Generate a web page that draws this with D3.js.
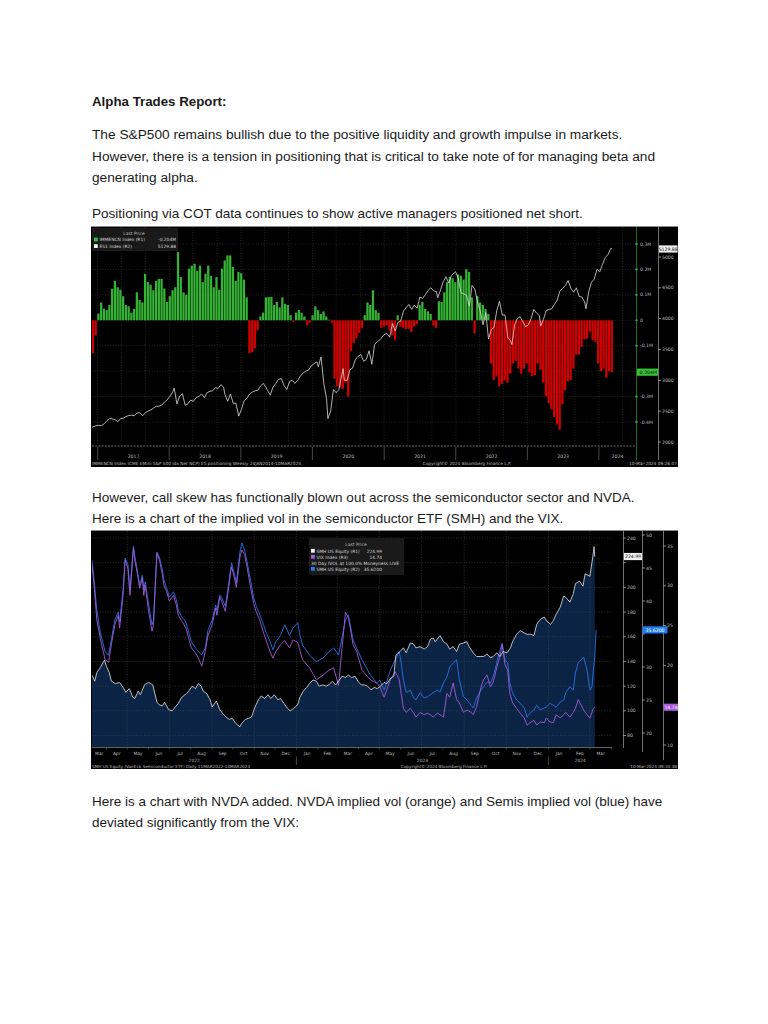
<!DOCTYPE html>
<html><head><meta charset="utf-8">
<script src="https://cdn.jsdelivr.net/npm/d3@7"></script>
<style>html,body{margin:0;padding:0;background:#fff;} svg{display:block;}</style>
</head><body>
<svg id="page" width="768" height="1024"></svg>
<script>
// ================= DATA =================
// Chart 1: CME E-mini S&P 500 net non-commercial positioning (thousand contracts), biweekly
const cotStart = "2016-11-25";
const cotStepDays = 14;
const cotNetK = [-135,-130,-60,26,70,46,40,60,124,155,130,120,95,60,55,30,45,110,80,70,
183,150,140,118,155,163,163,125,72,95,118,130,268,170,110,100,203,215,222,195,
215,150,183,215,175,130,170,120,203,235,255,255,210,155,190,185,160,90,-130,-125,
-110,-40,15,30,90,92,92,60,72,50,90,65,60,20,-6,30,40,30,15,-20,
-10,20,55,40,25,35,15,2,-10,-230,-260,-265,-270,-245,-300,-120,-90,-70,-50,-30,
20,70,60,118,40,30,-30,-25,-20,-40,-59,-78,20,-25,-30,-35,-33,-46,-25,-15,
60,72,45,35,25,-20,-30,75,72,110,150,170,165,150,180,175,160,200,190,90,
-52,95,70,60,45,25,-170,-235,-220,-260,-250,-235,-245,-210,-170,-160,-190,-210,-190,-170,
-205,-220,-215,-170,-195,-245,-300,-325,-350,-380,-410,-431,-330,-275,-240,-235,-190,-135,-135,-105,
-75,-72,-45,-78,-85,-170,-200,-190,-225,-200,-204];
// ES1 index (S&P 500 e-mini front month)
const esDates = ["2016-11-25","2016-12-09","2016-12-23","2017-01-06","2017-01-20","2017-02-03","2017-02-17","2017-03-03","2017-03-17","2017-03-31","2017-04-14","2017-04-28","2017-05-12","2017-05-26","2017-06-09","2017-06-23","2017-07-07","2017-07-21","2017-08-04","2017-08-18","2017-09-01","2017-09-15","2017-09-29","2017-10-13","2017-10-27","2017-11-10","2017-11-24","2017-12-08","2017-12-22","2018-01-05","2018-01-19","2018-01-26","2018-02-09","2018-02-23","2018-03-09","2018-03-23","2018-04-06","2018-04-20","2018-05-04","2018-05-18","2018-06-01","2018-06-15","2018-06-29","2018-07-13","2018-07-27","2018-08-10","2018-08-24","2018-09-07","2018-09-21","2018-10-05","2018-10-12","2018-10-26","2018-11-09","2018-11-23","2018-12-07","2018-12-21","2019-01-04","2019-01-18","2019-02-01","2019-02-15","2019-03-01","2019-03-15","2019-03-29","2019-04-12","2019-04-26","2019-05-10","2019-05-31","2019-06-14","2019-06-28","2019-07-12","2019-07-26","2019-08-09","2019-08-23","2019-09-06","2019-09-20","2019-10-04","2019-10-18","2019-11-01","2019-11-15","2019-11-29","2019-12-13","2019-12-27","2020-01-10","2020-01-24","2020-01-31","2020-02-14","2020-02-28","2020-03-13","2020-03-20","2020-04-03","2020-04-17","2020-05-01","2020-05-15","2020-06-05","2020-06-12","2020-06-26","2020-07-10","2020-07-24","2020-08-07","2020-08-21","2020-09-04","2020-09-18","2020-10-02","2020-10-16","2020-10-30","2020-11-13","2020-11-27","2020-12-11","2020-12-31","2021-01-15","2021-01-29","2021-02-12","2021-02-26","2021-03-12","2021-03-26","2021-04-09","2021-04-23","2021-05-07","2021-05-21","2021-06-04","2021-06-18","2021-07-02","2021-07-16","2021-07-30","2021-08-13","2021-08-27","2021-09-10","2021-09-24","2021-10-01","2021-10-15","2021-10-29","2021-11-12","2021-11-26","2021-12-10","2021-12-31","2022-01-14","2022-01-28","2022-02-11","2022-02-25","2022-03-11","2022-03-25","2022-04-08","2022-04-22","2022-05-06","2022-05-20","2022-06-03","2022-06-17","2022-07-01","2022-07-15","2022-07-29","2022-08-12","2022-08-26","2022-09-09","2022-09-23","2022-10-07","2022-10-14","2022-10-28","2022-11-11","2022-11-25","2022-12-09","2022-12-23","2023-01-06","2023-01-20","2023-02-03","2023-02-17","2023-03-03","2023-03-10","2023-03-24","2023-04-07","2023-04-21","2023-05-05","2023-05-19","2023-06-02","2023-06-16","2023-06-30","2023-07-14","2023-07-28","2023-08-11","2023-08-25","2023-09-08","2023-09-22","2023-10-06","2023-10-20","2023-10-27","2023-11-10","2023-11-24","2023-12-08","2023-12-22","2024-01-05","2024-01-19","2024-02-02","2024-02-16","2024-03-01","2024-03-08"];
const esValues = [2210,2250,2262,2270,2265,2295,2345,2380,2375,2360,2330,2380,2388,2412,2430,2435,2425,2470,2475,2425,2475,2500,2520,2550,2580,2580,2600,2650,2685,2745,2815,2875,2620,2745,2785,2595,2620,2680,2660,2720,2740,2780,2720,2800,2820,2830,2880,2870,2930,2890,2770,2660,2780,2630,2630,2420,2530,2670,2710,2780,2810,2830,2840,2910,2950,2880,2760,2890,2950,3015,3030,2920,2850,2980,3000,2950,3000,3070,3120,3150,3170,3240,3270,3300,3220,3380,2950,2700,2380,2500,2850,2800,2850,3190,3000,3000,3170,3200,3340,3390,3420,3310,3340,3480,3260,3580,3630,3660,3740,3760,3700,3920,3800,3940,3960,4120,4180,4230,4150,4220,4170,4350,4330,4390,4460,4500,4450,4440,4340,4460,4600,4680,4580,4700,4760,4650,4420,4400,4380,4200,4540,4480,4270,4120,3900,4100,3670,3820,3860,4130,4280,4060,4060,3700,3640,3580,3900,4000,4030,3950,3870,3900,4000,4150,4090,4050,3880,3990,4130,4150,4160,4230,4300,4450,4490,4540,4620,4490,4430,4500,4360,4350,4270,4160,4440,4590,4640,4800,4760,4880,4990,5040,5140,5129.88];
const cotTicks = [-400,-300,-200,-100,0,100,200,300];
const esTicks = [2000,2500,3000,3500,4000,4500,5000];

// Chart 2: SMH price, SMH 30d implied vol, VIX
const smhDates = ["2022-03-11","2022-03-15","2022-03-18","2022-03-23","2022-03-29","2022-04-01","2022-04-05","2022-04-08","2022-04-14","2022-04-20","2022-04-25","2022-04-29","2022-05-04","2022-05-09","2022-05-12","2022-05-17","2022-05-20","2022-05-26","2022-06-01","2022-06-07","2022-06-13","2022-06-16","2022-06-21","2022-06-24","2022-06-30","2022-07-05","2022-07-11","2022-07-14","2022-07-19","2022-07-26","2022-07-29","2022-08-03","2022-08-08","2022-08-12","2022-08-16","2022-08-19","2022-08-24","2022-08-29","2022-09-01","2022-09-07","2022-09-12","2022-09-16","2022-09-21","2022-09-26","2022-09-30","2022-10-05","2022-10-11","2022-10-14","2022-10-19","2022-10-24","2022-10-28","2022-11-02","2022-11-07","2022-11-11","2022-11-16","2022-11-21","2022-11-25","2022-11-30","2022-12-05","2022-12-09","2022-12-14","2022-12-19","2022-12-23","2022-12-28","2023-01-03","2023-01-06","2023-01-11","2023-01-16","2023-01-20","2023-01-25","2023-01-30","2023-02-03","2023-02-08","2023-02-13","2023-02-17","2023-02-22","2023-02-27","2023-03-03","2023-03-08","2023-03-13","2023-03-17","2023-03-22","2023-03-27","2023-03-31","2023-04-05","2023-04-10","2023-04-14","2023-04-19","2023-04-24","2023-04-28","2023-05-03","2023-05-08","2023-05-12","2023-05-17","2023-05-22","2023-05-25","2023-05-31","2023-06-05","2023-06-09","2023-06-15","2023-06-20","2023-06-23","2023-06-29","2023-07-05","2023-07-10","2023-07-14","2023-07-18","2023-07-21","2023-07-28","2023-08-02","2023-08-07","2023-08-11","2023-08-16","2023-08-21","2023-08-25","2023-08-31","2023-09-05","2023-09-08","2023-09-14","2023-09-19","2023-09-25","2023-09-29","2023-10-04","2023-10-09","2023-10-13","2023-10-18","2023-10-23","2023-10-27","2023-11-02","2023-11-07","2023-11-10","2023-11-16","2023-11-21","2023-11-27","2023-12-01","2023-12-06","2023-12-11","2023-12-15","2023-12-20","2023-12-26","2023-12-29","2024-01-04","2024-01-08","2024-01-12","2024-01-18","2024-01-23","2024-01-26","2024-02-01","2024-02-06","2024-02-09","2024-02-15","2024-02-20","2024-02-23","2024-03-01","2024-03-05","2024-03-07","2024-03-08"];
const smhPrices = [129,124,131,135,141,136,131,124,122,123,119,115,118,111,110,116,113,121,123,121,107,105,104,107,101,100,104,106,111,114,116,120,118,122,120,116,114,109,103,108,101,98,95,93,94,90,87,90,93,94,95,103,109,112,110,113,110,113,109,110,106,102,100,102,105,111,116,119,122,125,124,120,121,120,121,124,121,124,128,127,129,127,128,124,121,121,120,117,119,118,120,123,122,126,128,145,148,151,147,155,154,151,152,150,152,158,159,156,161,156,154,150,152,148,154,155,156,152,147,144,144,144,146,143,144,147,144,148,147,151,156,162,165,163,162,162,161,170,174,176,173,170,173,178,184,193,192,188,195,203,205,201,211,209,224,233,224.99];
const volDates = ["2022-03-11","2022-03-14","2022-03-18","2022-03-23","2022-03-30","2022-04-04","2022-04-08","2022-04-13","2022-04-18","2022-04-20","2022-04-25","2022-04-28","2022-05-02","2022-05-05","2022-05-10","2022-05-12","2022-05-16","2022-05-19","2022-05-23","2022-05-25","2022-05-27","2022-06-01","2022-06-06","2022-06-08","2022-06-13","2022-06-17","2022-06-21","2022-06-23","2022-06-27","2022-07-01","2022-07-07","2022-07-11","2022-07-14","2022-07-19","2022-07-25","2022-07-29","2022-08-02","2022-08-10","2022-08-17","2022-08-22","2022-08-26","2022-09-01","2022-09-06","2022-09-08","2022-09-12","2022-09-15","2022-09-20","2022-09-23","2022-09-29","2022-10-03","2022-10-06","2022-10-11","2022-10-14","2022-10-18","2022-10-21","2022-10-26","2022-10-31","2022-11-04","2022-11-09","2022-11-14","2022-11-18","2022-11-24","2022-11-28","2022-12-02","2022-12-09","2022-12-15","2022-12-22","2022-12-27","2023-01-03","2023-01-06","2023-01-10","2023-01-20","2023-01-30","2023-02-09","2023-02-17","2023-02-24","2023-03-03","2023-03-13","2023-03-17","2023-03-20","2023-03-24","2023-03-29","2023-04-06","2023-04-18","2023-04-27","2023-05-02","2023-05-08","2023-05-17","2023-05-24","2023-05-30","2023-06-01","2023-06-05","2023-06-09","2023-06-15","2023-06-20","2023-06-23","2023-06-29","2023-07-05","2023-07-10","2023-07-14","2023-07-18","2023-07-24","2023-07-28","2023-08-02","2023-08-07","2023-08-11","2023-08-16","2023-08-21","2023-08-25","2023-08-31","2023-09-05","2023-09-11","2023-09-14","2023-09-19","2023-09-25","2023-09-29","2023-10-04","2023-10-09","2023-10-13","2023-10-18","2023-10-23","2023-10-26","2023-10-30","2023-11-03","2023-11-06","2023-11-10","2023-11-16","2023-11-21","2023-11-27","2023-12-01","2023-12-05","2023-12-11","2023-12-15","2023-12-20","2023-12-26","2023-12-29","2024-01-03","2024-01-08","2024-01-12","2024-01-18","2024-01-23","2024-01-26","2024-02-01","2024-02-06","2024-02-09","2024-02-13","2024-02-21","2024-02-26","2024-03-01","2024-03-04","2024-03-06","2024-03-08","2024-03-10"];
const vixValues = [32.6,30.1,25.7,23.4,20.7,20.4,22.6,25.1,26.3,24.7,28.8,33.2,32.2,28.8,34.7,33.2,31.4,29.7,31.0,28.8,30.1,26.8,24.3,25.1,34.1,33.1,31.4,30.1,29.3,28.1,28.8,27.6,26.3,25.6,24.7,23.4,22.2,21.3,19.9,21.8,23.8,25.1,27.2,26.3,28.6,28.0,26.8,28.6,32.4,31.1,29.8,33.5,34.5,33.9,32.6,30.1,27.8,26.7,25.7,24.2,23.2,21.7,20.9,21.7,22.6,23.1,22.2,23.2,22.9,21.9,20.7,19.7,18.2,18.8,19.4,19.7,17.5,26.7,26.0,24.7,22.6,21.8,19.4,18.2,17.8,17.3,16.0,18.2,19.2,18.2,16.9,14.6,14.1,14.6,14.0,13.5,14.1,13.8,14.0,13.8,13.5,14.0,13.8,13.5,16.5,16.0,17.8,15.7,15.3,14.1,14.4,14.1,13.8,14.8,17.2,18.2,18.8,17.3,17.9,19.7,21.3,22.6,20.1,19.4,16.5,15.3,14.6,14.0,13.4,12.5,12.8,13.1,12.5,12.9,12.8,13.4,12.9,12.8,13.8,13.4,13.8,14.1,13.5,14.1,14.6,15.7,14.4,13.8,13.4,14.1,14.6,14.74,14.74];
const smhIvValues = [46.2,43.2,38.6,35.3,32.3,31.8,34.1,37.1,38.3,36.8,41.7,46.5,45.5,41.7,48.3,46.8,44.4,42.4,43.9,41.7,42.9,39.4,36.4,37.1,47.4,46.5,44.7,43.2,42.0,40.6,41.4,40.2,38.6,37.6,36.8,35.3,33.8,32.6,31.8,32.9,35.6,37.1,39.4,38.6,40.9,40.5,39.2,41.2,45.8,44.2,42.7,47.3,48.8,47.7,46.2,43.5,40.5,39.2,38.0,36.5,35.3,33.8,32.6,33.8,34.8,36.4,34.8,35.9,36.7,34.8,33.3,31.8,30.8,31.4,32.3,32.9,31.8,37.1,37.9,36.4,34.1,32.9,31.1,28.8,27.6,28.0,26.5,29.5,31.1,32.3,31.1,28.0,26.1,26.5,25.3,25.0,26.1,25.3,25.5,25.8,26.1,26.5,26.2,27.6,28.5,30.0,30.6,31.1,28.0,25.5,25.0,24.2,23.8,25.3,26.5,27.0,27.7,27.6,28.5,30.6,32.6,33.6,31.1,30.6,27.6,26.1,25.0,24.5,23.8,22.4,23.0,23.5,24.2,23.5,23.8,23.9,24.5,24.2,23.9,24.7,25.0,26.1,27.0,26.5,29.1,30.6,31.5,29.5,26.5,27.0,29.5,31.5,35.62];
const priceTicks = [80,100,120,140,160,180,200,220,240];
const ivTicks = [20,25,30,35,40,45,50];
const vixTicks = [10,15,20,25,30,35];

// ================= DRAWING =================
const parse = d3.timeParse("%Y-%m-%d");
const svg = d3.select("#page");
const TXT = "'Liberation Sans', Arial, sans-serif";
const CF = "'DejaVu Sans', 'Liberation Sans', sans-serif";

// ---- body text ----
const bodyLines = [
  {t:"Alpha Trades Report:", y:106, bold:true, fs:13.3},
  {t:"The S&P500 remains bullish due to the positive liquidity and growth impulse in markets.", y:139, fs:13.7},
  {t:"However, there is a tension in positioning that is critical to take note of for managing beta and", y:160.5, fs:13.7},
  {t:"generating alpha.", y:182, fs:13.7},
  {t:"Positioning via COT data continues to show active managers positioned net short.", y:217.5, fs:13.55},
  {t:"However, call skew has functionally blown out across the semiconductor sector and NVDA.", y:501.5, fs:13.5},
  {t:"Here is a chart of the implied vol in the semiconductor ETF (SMH) and the VIX.", y:522.5, fs:13.5},
  {t:"Here is a chart with NVDA added. NVDA implied vol (orange) and Semis implied vol (blue) have", y:805.5, fs:13.5},
  {t:"deviated significantly from the VIX:", y:827, fs:13.5}
];
svg.selectAll("text.body").data(bodyLines).join("text")
  .attr("class","body").attr("x",92).attr("y",d=>d.y)
  .attr("font-family",TXT).attr("font-size",d=>d.fs)
  .attr("font-weight",d=>d.bold?"bold":"normal").attr("fill","#1b1b1b")
  .text(d=>d.t);

function small(g,x,y,t,opts={}){
  return g.append("text").attr("x",x).attr("y",y).attr("font-family",CF)
    .attr("font-size",opts.size||4.6).attr("fill",opts.fill||"#bdbdbd")
    .attr("text-anchor",opts.anchor||"start").text(t);
}

// ================= CHART 1 =================
{
  const g = svg.append("g");
  g.append("rect").attr("x",91).attr("y",226).attr("width",587).attr("height",241).attr("fill","#000");
  g.append("line").attr("x1",91).attr("x2",678).attr("y1",226.5).attr("y2",226.5).attr("stroke","#8a8a8a").attr("stroke-width",1);
  const L=92, R=636, T=227, B=446;
  const x = d3.scaleTime().domain([new Date(2016,11,3), new Date(2024,6,8)]).range([L,R]);
  const yC = d3.scaleLinear().domain([-400,300]).range([422,244]);
  const yE = d3.scaleLinear().domain([2000,5000]).range([442,257]);
  const lastCot = cotNetK[cotNetK.length-1], lastEs = esValues[esValues.length-1];

  // grid
  const grid = g.append("g").attr("stroke","#3c3c3c").attr("stroke-width",0.6).attr("stroke-dasharray","1,1.6");
  grid.selectAll("line.h").data(cotTicks).join("line").attr("x1",L).attr("x2",R)
    .attr("y1",d=>yC(d)).attr("y2",d=>yC(d));
  grid.selectAll("line.v").data(d3.timeMonth.every(4).range(new Date(2017,0,1), new Date(2024,6,8))).join("line")
    .attr("x1",d=>x(d)).attr("x2",d=>x(d)).attr("y1",T).attr("y2",B);

  // bars
  g.append("clipPath").attr("id","clip1").append("rect").attr("x",L).attr("y",T).attr("width",R-L).attr("height",B-T);
  const d0 = parse(cotStart);
  const cot = cotNetK.map((v,i)=>({date:d3.timeDay.offset(d0,i*cotStepDays), v}));
  const bw = x(d3.timeDay.offset(d0,cotStepDays)) - x(d0);
  g.append("g").attr("clip-path","url(#clip1)").selectAll("rect").data(cot).join("rect")
    .attr("x",d=>x(d.date)-bw/2).attr("width",bw*0.82)
    .attr("y",d=>Math.min(yC(0),yC(d.v))).attr("height",d=>Math.abs(yC(d.v)-yC(0)))
    .attr("fill",d=>d.v>=0?"#35b335":"#d40000");

  // ES line
  const es = esDates.map((d,i)=>({date:parse(d), v:esValues[i]}));
  g.append("path").datum(es).attr("clip-path","url(#clip1)")
    .attr("d",d3.line().x(d=>x(d.date)).y(d=>yE(d.v)))
    .attr("fill","none").attr("stroke","#dcdcdc").attr("stroke-width",0.8);

  // x band
  g.append("line").attr("x1",L).attr("x2",R).attr("y1",B).attr("y2",B).attr("stroke","#9a9a9a").attr("stroke-width",0.7).attr("stroke-dasharray","2,1.2");
  const dom = x.domain();
  const years = d3.timeYear.range(d3.timeYear.floor(dom[0]), dom[1]);
  years.forEach(yv=>{
    const s = yv<dom[0]?dom[0]:yv, e0=d3.timeYear.offset(yv,1), e = e0>dom[1]?dom[1]:e0;
    if (yv>=dom[0]) g.append("line").attr("x1",x(yv)).attr("x2",x(yv)).attr("y1",B+1).attr("y2",B+14).attr("stroke","#777").attr("stroke-width",0.6);
    if (x(e)-x(s) > 20) small(g,(x(s)+x(e))/2,458,d3.timeFormat("%Y")(yv),{anchor:"middle"});
  });
  // footer
  small(g,92,465,"IMMENCN Index (CME EMini S&P 500 Idx Net NCP) ES positioning  Weekly 24JAN2014-10MAR2024",{size:4.3});
  small(g,467,465,"Copyright\u00a9 2024 Bloomberg Finance L.P.",{size:4.3,anchor:"middle"});
  small(g,677,465,"10-Mar-2024 09:26:07",{size:4.3,anchor:"end"});

  // right axis 1 (positioning) – tick hidden where the last-price tag sits
  g.append("line").attr("x1",R+0.5).attr("x2",R+0.5).attr("y1",T).attr("y2",B+14).attr("stroke","#1f8a1f").attr("stroke-width",0.8);
  cotTicks.filter(t=>Math.abs(yC(t)-yC(lastCot))>6).forEach(t=>{
    g.append("rect").attr("x",R-0.5).attr("y",yC(t)-0.8).attr("width",2).attr("height",1.6).attr("fill","#3ccc3c");
    small(g,R+4,yC(t)+1.6,t===0?"0":(t/1000)+"M");
  });
  // right axis 2 (ES)
  g.append("line").attr("x1",658.5).attr("x2",658.5).attr("y1",T).attr("y2",B+14).attr("stroke","#bbb").attr("stroke-width",0.6);
  esTicks.forEach(t=>{
    g.append("line").attr("x1",658.5).attr("x2",661).attr("y1",yE(t)).attr("y2",yE(t)).attr("stroke","#ccc").attr("stroke-width",0.7);
    small(g,662,yE(t)+1.6,String(t));
  });
  // last-price tags
  g.append("rect").attr("x",R+1).attr("y",yC(lastCot)-3.6).attr("width",21).attr("height",7.2).attr("fill","#39c039");
  small(g,R+11.5,yC(lastCot)+1.6,(lastCot/1000).toFixed(3)+"M",{anchor:"middle",fill:"#062006"});
  g.append("rect").attr("x",659).attr("y",yE(lastEs)-3.6).attr("width",18.5).attr("height",7.2).attr("fill","#eeeeee");
  small(g,668.2,yE(lastEs)+1.6,lastEs.toFixed(2),{anchor:"middle",fill:"#111"});

  // legend
  g.append("rect").attr("x",92).attr("y",228).attr("width",86).attr("height",23).attr("fill","#191919");
  small(g,134,234.5,"Last Price",{anchor:"middle",size:4.4});
  g.append("rect").attr("x",94).attr("y",237.6).attr("width",3.8).attr("height",3.8).attr("fill","#35c035");
  small(g,99.5,241.2,"IMMENCN Index   (R1)",{size:4.4,fill:"#d8d8d8"});
  small(g,176,241.2,(lastCot/1000).toFixed(3)+"M",{size:4.4,anchor:"end",fill:"#d8d8d8"});
  g.append("rect").attr("x",94).attr("y",244.2).attr("width",3.8).attr("height",3.8).attr("fill","#f2f2f2");
  small(g,99.5,247.8,"ES1 Index   (R2)",{size:4.4,fill:"#d8d8d8"});
  small(g,176,247.8,lastEs.toFixed(2),{size:4.4,anchor:"end",fill:"#d8d8d8"});
}

// ================= CHART 2 =================
{
  const g = svg.append("g");
  g.append("rect").attr("x",91).attr("y",530).attr("width",587).attr("height",239).attr("fill","#000");
  g.append("line").attr("x1",91).attr("x2",678).attr("y1",530.5).attr("y2",530.5).attr("stroke","#8a8a8a").attr("stroke-width",1);
  const L=92, R=612, T=531, B=747;
  const x = d3.scaleTime().domain([new Date(2022,2,11), new Date(2024,3,2)]).range([L,R]);
  const yP = d3.scaleLinear().domain([80,240]).range([735.5,538]);
  const yI = d3.scaleLinear().domain([20,50]).range([733,535]);
  const yV = d3.scaleLinear().domain([10,35]).range([745,546]);

  const smh = smhDates.map((d,i)=>({date:parse(d), v:smhPrices[i]}));
  const vol = volDates.map((d,i)=>({date:parse(d), vix:vixValues[i], iv:smhIvValues[i]}));
  const lp = smhPrices[smhPrices.length-1], li = smhIvValues[smhIvValues.length-1], lv = vixValues[vixValues.length-1];

  g.append("clipPath").attr("id","clip2").append("rect").attr("x",L).attr("y",T).attr("width",R-L).attr("height",B-T);
  const cg = g.append("g").attr("clip-path","url(#clip2)");
  // area under SMH price
  cg.append("path").datum(smh)
    .attr("d",d3.area().x(d=>x(d.date)).y0(B).y1(d=>yP(d.v)))
    .attr("fill","#0b2446");
  // grid
  const grid = cg.append("g").attr("stroke","#4a4a4a").attr("stroke-width",0.6).attr("stroke-dasharray","1,1.6");
  grid.selectAll("line.h").data(priceTicks).join("line").attr("x1",L).attr("x2",R)
    .attr("y1",d=>yP(d)).attr("y2",d=>yP(d));
  grid.selectAll("line.v").data(d3.timeMonth.every(2).range(new Date(2022,2,12), new Date(2024,3,2))).join("line")
    .attr("x1",d=>x(d)).attr("x2",d=>x(d)).attr("y1",T).attr("y2",B);
  // lines
  cg.append("path").datum(vol).attr("d",d3.line().x(d=>x(d.date)).y(d=>yI(d.iv)))
    .attr("fill","none").attr("stroke","#2a72e6").attr("stroke-width",0.9);
  cg.append("path").datum(vol.slice(0,-1)).attr("d",d3.line().x(d=>x(d.date)).y(d=>yV(d.vix)))
    .attr("fill","none").attr("stroke","#a55ad8").attr("stroke-width",0.9);
  cg.append("path").datum(smh).attr("d",d3.line().x(d=>x(d.date)).y(d=>yP(d.v)))
    .attr("fill","none").attr("stroke","#e6e6e6").attr("stroke-width",0.8);

  // x band
  g.append("line").attr("x1",L).attr("x2",R).attr("y1",B+0.5).attr("y2",B+0.5).attr("stroke","#8a8a8a").attr("stroke-width",0.7);
  const dom = x.domain();
  d3.timeMonth.range(d3.timeMonth.floor(dom[0]), dom[1]).forEach(m=>{
    const s = m<dom[0]?dom[0]:m, e0=d3.timeMonth.offset(m,1), e = e0>dom[1]?dom[1]:e0;
    if (m>=dom[0]) g.append("line").attr("x1",x(m)).attr("x2",x(m)).attr("y1",B+0.5).attr("y2",B+2.5).attr("stroke","#777").attr("stroke-width",0.5);
    if (x(e)-x(s) > 8) small(g,(x(s)+x(e))/2,755,d3.timeFormat("%b")(m),{anchor:"middle",size:4.4});
  });
  d3.timeYear.range(d3.timeYear.floor(dom[0]), dom[1]).forEach(yv=>{
    const s = yv<dom[0]?dom[0]:yv, e0=d3.timeYear.offset(yv,1), e = e0>dom[1]?dom[1]:e0;
    if (yv>=dom[0]) g.append("line").attr("x1",x(yv)).attr("x2",x(yv)).attr("y1",756.5).attr("y2",765).attr("stroke","#777").attr("stroke-width",0.6);
    small(g,(x(s)+x(e))/2,762,d3.timeFormat("%Y")(yv),{anchor:"middle",size:4.4});
  });
  small(g,92,768,"SMH US Equity (VanEck Semiconductor ETF)  Daily 11MAR2022-10MAR2024",{size:4.2});
  small(g,444,768,"Copyright\u00a9 2024 Bloomberg Finance L.P.",{size:4.2,anchor:"middle"});
  small(g,677,768,"10-Mar-2024 09:33:48",{size:4.2,anchor:"end"});

  // axes (tick labels hidden where a last-price tag sits on them)
  const axes = [
    {x:623, ticks:priceTicks, s:yP, y2:B+1, tag:yP(lp)},
    {x:642, ticks:ivTicks, s:yI, y2:752, tag:yI(li)},
    {x:663, ticks:vixTicks, s:yV, y2:760, tag:yV(lv)}
  ];
  axes.forEach(a=>{
    g.append("line").attr("x1",a.x+0.5).attr("x2",a.x+0.5).attr("y1",T).attr("y2",a.y2).attr("stroke","#bdbdbd").attr("stroke-width",0.6);
    a.ticks.forEach(t=>{
      g.append("line").attr("x1",a.x+0.5).attr("x2",a.x+2.8).attr("y1",a.s(t)).attr("y2",a.s(t)).attr("stroke","#d0d0d0").attr("stroke-width",0.7);
      if (Math.abs(a.s(t)-a.tag) > 6.5) small(g,a.x+4,a.s(t)+1.6,String(t),{size:4.6});
    });
  });
  // last-price tags
  g.append("rect").attr("x",624).attr("y",yP(lp)-3.6).attr("width",18).attr("height",7.2).attr("fill","#f0f0f0");
  small(g,633,yP(lp)+1.6,lp.toFixed(2),{anchor:"middle",fill:"#111"});
  g.append("rect").attr("x",642.5).attr("y",yI(li)-3.6).attr("width",25).attr("height",7.2).attr("fill","#1f7ef0");
  small(g,655,yI(li)+1.6,li.toFixed(4),{anchor:"middle",fill:"#fff"});
  g.append("rect").attr("x",664).attr("y",yV(lv)-3.6).attr("width",14).attr("height",7.2).attr("fill","#a65be0");
  small(g,671,yV(lv)+1.6,lv.toFixed(2),{anchor:"middle",fill:"#fff"});

  // legend
  g.append("rect").attr("x",309).attr("y",538).attr("width",95).attr("height",37).attr("fill","#1a1a1a");
  small(g,356,545.5,"Last Price",{anchor:"middle",size:4.4});
  const leg = [
    {c:"#f2f2f2", t:"SMH US Equity   (R1)", v:lp.toFixed(2), y:552.5},
    {c:"#a65be0", t:"VIX Index   (R3)", v:lv.toFixed(2), y:558.5},
    {c:null, t:"30 Day IVOL at 100.0% Moneyness LIVE", v:"", y:564.5},
    {c:"#1f7ef0", t:"SMH US Equity   (R2)", v:li.toFixed(4), y:570.5}
  ];
  leg.forEach(r=>{
    if (r.c) g.append("rect").attr("x",311).attr("y",r.y-3.6).attr("width",3.8).attr("height",3.8).attr("fill",r.c);
    small(g,r.c?316.5:311,r.y,r.t,{size:4.4,fill:"#d8d8d8"});
    if (r.v) small(g,382,r.y,r.v,{size:4.4,anchor:"end",fill:"#d8d8d8"});
  });
}
</script>
</body></html>
